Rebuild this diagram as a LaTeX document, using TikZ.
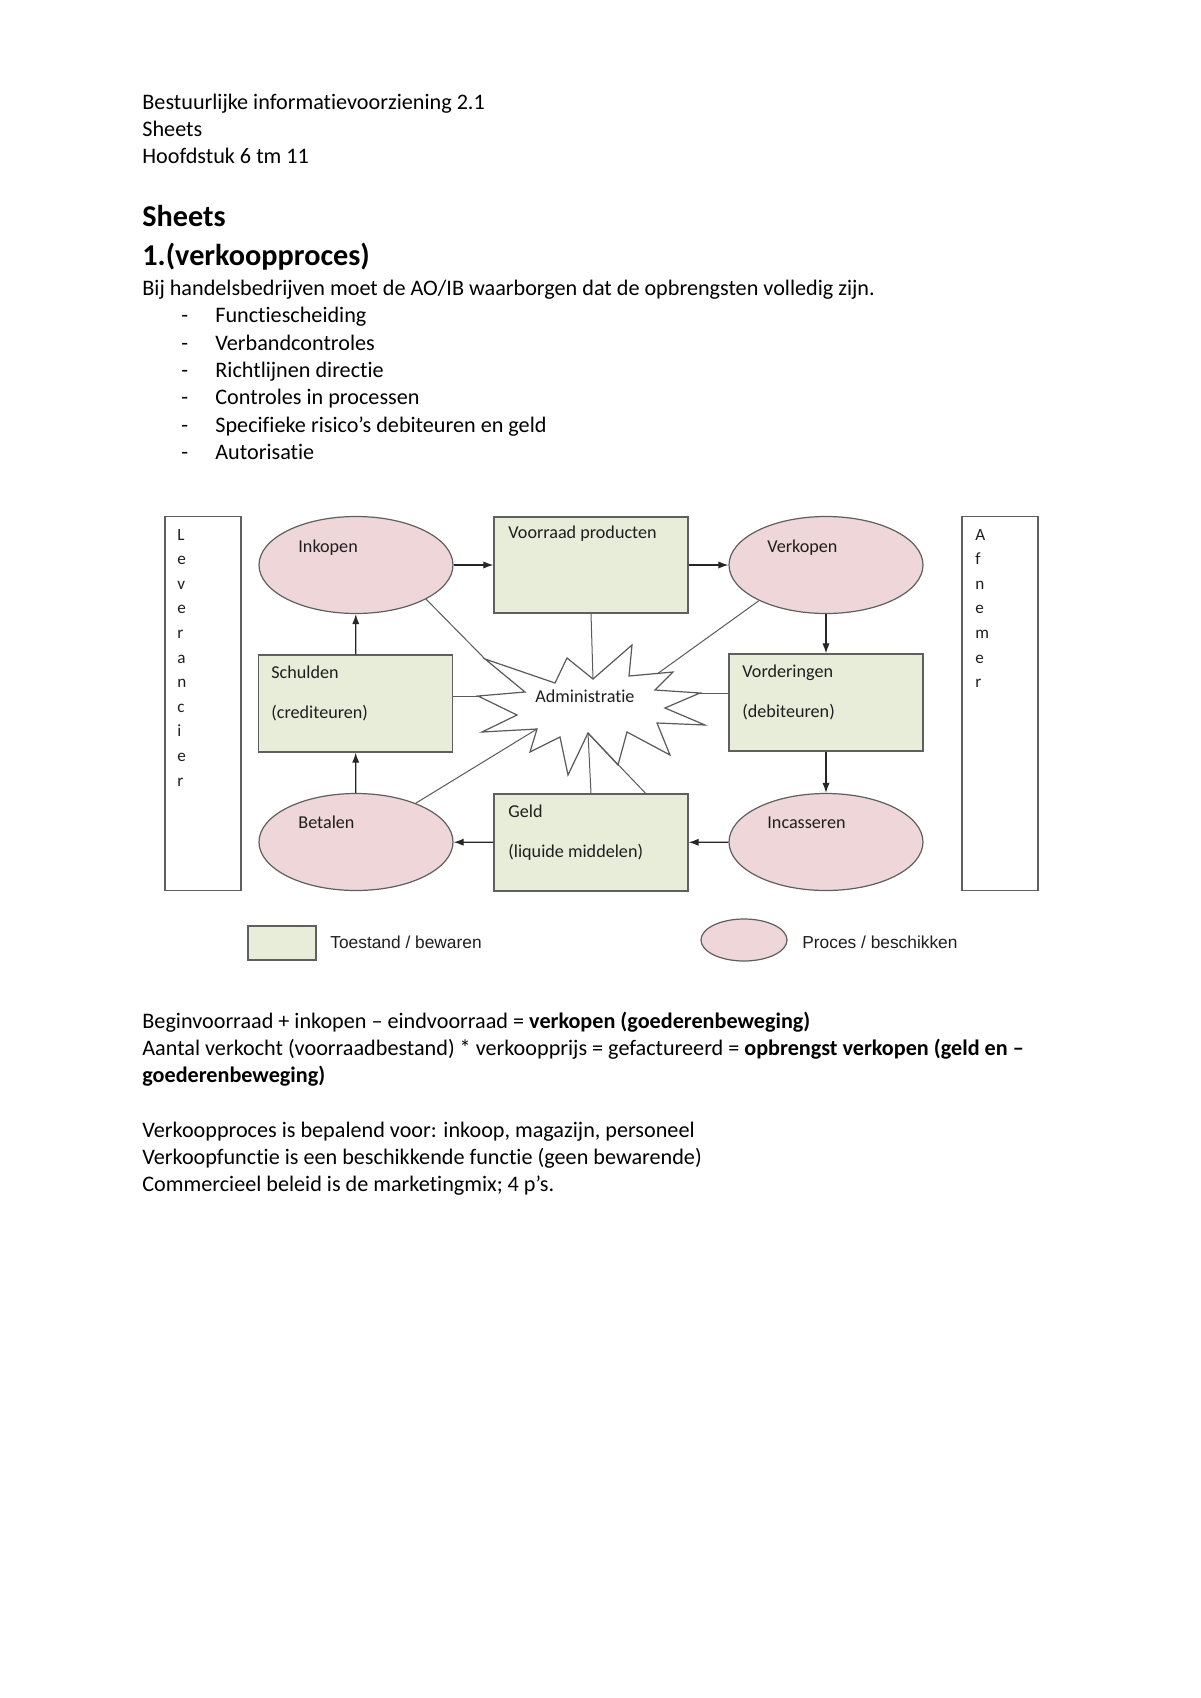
\documentclass[tikz,border=0pt]{standalone}
\usepackage{fontspec}
\setmainfont[Ligatures=NoCommon]{Carlito}
\newfontfamily\arialf{Liberation Sans}
\usetikzlibrary{shapes.geometric,arrows.meta,calc}
\definecolor{pinkfill}{RGB}{238,214,217}
\definecolor{greenfill}{RGB}{232,237,217}
\definecolor{edgegray}{RGB}{95,95,95}
\definecolor{linegray}{RGB}{90,90,90}
\definecolor{txtgray}{RGB}{30,30,30}
\newcommand\pxu{0.4961pt}
\begin{document}
\begin{tikzpicture}[x=0.4961pt,y=-0.4961pt,
  body/.style={anchor=base west, inner sep=0pt, font=\fontsize{11}{13.4}\selectfont},
  head/.style={anchor=base west, inner sep=0pt, font=\fontsize{15}{18}\selectfont\bfseries},
  proc/.style={ellipse, draw=edgegray, fill=pinkfill, line width=0.6pt, minimum width=194*\pxu, minimum height=97*\pxu, inner sep=0pt},
  state/.style={rectangle, draw=edgegray, fill=greenfill, line width=0.6pt, minimum width=194*\pxu, minimum height=97*\pxu, inner sep=0pt},
  party/.style={rectangle, draw=edgegray, fill=white, line width=0.6pt, minimum width=76*\pxu, minimum height=374*\pxu, inner sep=0pt},
  dtext/.style={anchor=base west, inner sep=0pt, text=txtgray, font=\fontsize{9}{11}\selectfont},
  ltext/.style={anchor=base west, inner sep=0pt, text=txtgray, font=\arialf\fontsize{8.6}{10}\selectfont},
  vletter/.style={anchor=base west, inner sep=0pt, text=txtgray, font=\fontsize{8.5}{10}\selectfont},
  arr/.style={draw=black!85, line width=0.6pt, -{Latex[length=5pt,width=3.6pt]}},
  conn/.style={draw=linegray, line width=0.5pt},
  starshape/.style={draw=linegray, fill=white, line width=0.6pt, line join=miter}
]
\useasboundingbox (0,0) rectangle (1200,1698);

% ---------- header text ----------
\node[body] (h1) at (142,109) {Bestuurlijke informatievoorziening 2.1};
\node[body] (h2) at (142,136) {Sheets};
\node[body] (h3) at (142,163) {Hoofdstuk 6 tm 11};
\node[head] (hd1) at (142,226) {Sheets};
\node[head] (hd2) at (142,265) {1.(verkoopproces)};
\node[body] (intro) at (142,295) {Bij handelsbedrijven moet de AO/IB waarborgen dat de opbrengsten volledig zijn.};
\foreach \t [count=\i] in {Functiescheiding,Verbandcontroles,Richtlijnen directie,Controles in processen,Specifieke risico’s debiteuren en geld,Autorisatie}{
  \node[body] (dash\i) at (181,{295.5+27.3*\i}) {-};
  \node[body] (item\i) at (215,{295.5+27.3*\i}) {\t};
}

% ---------- parties ----------
\node[party] (lev) at (203,703.5) {};
\node[party] (afn) at (1000,703.5) {};
\foreach \l [count=\i] in {L,e,v,e,r,a,n,c,i,e,r}
  \node[vletter] (lv\i) at (177,{540+24.6*(\i-1)}) {\l};
\foreach \l [count=\i] in {A,f,n,e,m,e,r}
  \node[vletter] (af\i) at (975,{540+24.6*(\i-1)}) {\l};

% ---------- star (Administratie) ----------
\coordinate (s1) at (485,659);
\coordinate (s2) at (555,683);
\coordinate (s3) at (567,658);
\coordinate (s4) at (593,679);
\coordinate (s5) at (632,645);
\coordinate (s6) at (629,676);
\coordinate (s7) at (673,672);
\coordinate (s8) at (655,690);
\coordinate (s9) at (700,693);
\coordinate (s10) at (665,708);
\coordinate (s11) at (705,725);
\coordinate (s12) at (657,723);
\coordinate (s13) at (670,755);
\coordinate (s14) at (627,732);
\coordinate (s15) at (618,765);
\coordinate (s16) at (588,733);
\coordinate (s17) at (568,775);
\coordinate (s18) at (560,737);
\coordinate (s19) at (530,752);
\coordinate (s20) at (537,729);
\coordinate (s21) at (482,732);
\coordinate (s22) at (517,715);
\coordinate (s23) at (478,696);
\coordinate (s24) at (525,692);
\coordinate (vk) at (657,674);
\draw[starshape] (s1)--(s2)--(s3)--(s4)--(s5)--(s6)--(s7)--(s8)--(s9)--(s10)--(s11)--(s12)--(s13)--(s14)--(s15)--(s16)--(s17)--(s18)--(s19)--(s20)--(s21)--(s22)--(s23)--(s24)--cycle;
\node[dtext, anchor=base] (admin) at (585,702.5) {Administratie};

% ---------- processes and states ----------
\node[proc] (inkopen) at (356,565) {};
\node[state, minimum height=96*\pxu] (voorraad) at (591,565) {};
\node[proc] (verkopen) at (826,565) {};
\node[state] (schulden) at (355.5,703.5) {};
\node[state] (vorderingen) at (826,702.5) {};
\node[proc] (betalen) at (356,842) {};
\node[state] (geld) at (591,842.5) {};
\node[proc] (incasseren) at (826,842) {};

\node[dtext] (inkopenT) at (298,552) {Inkopen};
\node[dtext] (voorraadT) at (508,538.5) {Voorraad producten};
\node[dtext] (verkopenT) at (767,552) {Verkopen};
\node[dtext] (schuldenT) at (271,678.5) {Schulden};
\node[dtext] (schuldenT2) at (271,718) {(crediteuren)};
\node[dtext] (vorderingenT) at (742,677.5) {Vorderingen};
\node[dtext] (vorderingenT2) at (742,717.5) {(debiteuren)};
\node[dtext] (betalenT) at (298,828.5) {Betalen};
\node[dtext] (geldT) at (508,817.5) {Geld};
\node[dtext] (geldT2) at (508,857.5) {(liquide middelen)};
\node[dtext] (incasserenT) at (767,828.5) {Incasseren};

% ---------- connectors to Administratie ----------
\draw[conn] (inkopen.-26) -- (s1);
\draw[conn] (voorraad.south) -- (s4);
\draw[conn] (verkopen.-152) -- (vk);
\draw[conn] (schulden.east |- s23) -- (s23);
\draw[conn] (vorderingen.west |- s9) -- (s9);
\draw[conn] (betalen.33) -- (s20);
\draw[conn] (geld.north) -- (s16);
\draw[conn] ($(geld.north west)!0.78!(geld.north east)$) -- (s16);

% ---------- flow arrows ----------
\draw[arr] (inkopen) -- (voorraad);
\draw[arr] (voorraad) -- (verkopen);
\draw[arr] (verkopen) -- (vorderingen);
\draw[arr] (vorderingen) -- (incasseren);
\draw[arr] (incasseren) -- (geld);
\draw[arr] (geld) -- (betalen);
\draw[arr] (betalen) -- (schulden);
\draw[arr] (schulden) -- (inkopen);

% ---------- legend ----------
\node[state, minimum width=68*\pxu, minimum height=34*\pxu] (legbox) at (282,943) {};
\node[ltext] (legboxT) at (330,948) {Toestand / bewaren};
\node[proc, minimum width=86*\pxu, minimum height=42*\pxu] (legell) at (744,940) {};
\node[ltext] (legellT) at (802,948) {Proces / beschikken};

% ---------- lower text ----------
\node[body] (f1) at (142,1028) {Beginvoorraad + inkopen – eindvoorraad = \textbf{verkopen (goederenbeweging)}};
\node[body] (f2) at (142,1055) {Aantal verkocht (voorraadbestand) * verkoopprijs = gefactureerd = \textbf{opbrengst verkopen (geld en –}};
\node[body] (f3) at (142,1082) {\textbf{goederenbeweging)}};
\node[body] (n1) at (142,1137) {Verkoopproces is bepalend voor: inkoop, magazijn, personeel};
\node[body] (n2) at (142,1164) {Verkoopfunctie is een beschikkende functie (geen bewarende)};
\node[body] (n3) at (142,1191) {Commercieel beleid is de marketingmix; 4 p’s.};
\end{tikzpicture}
\end{document}
